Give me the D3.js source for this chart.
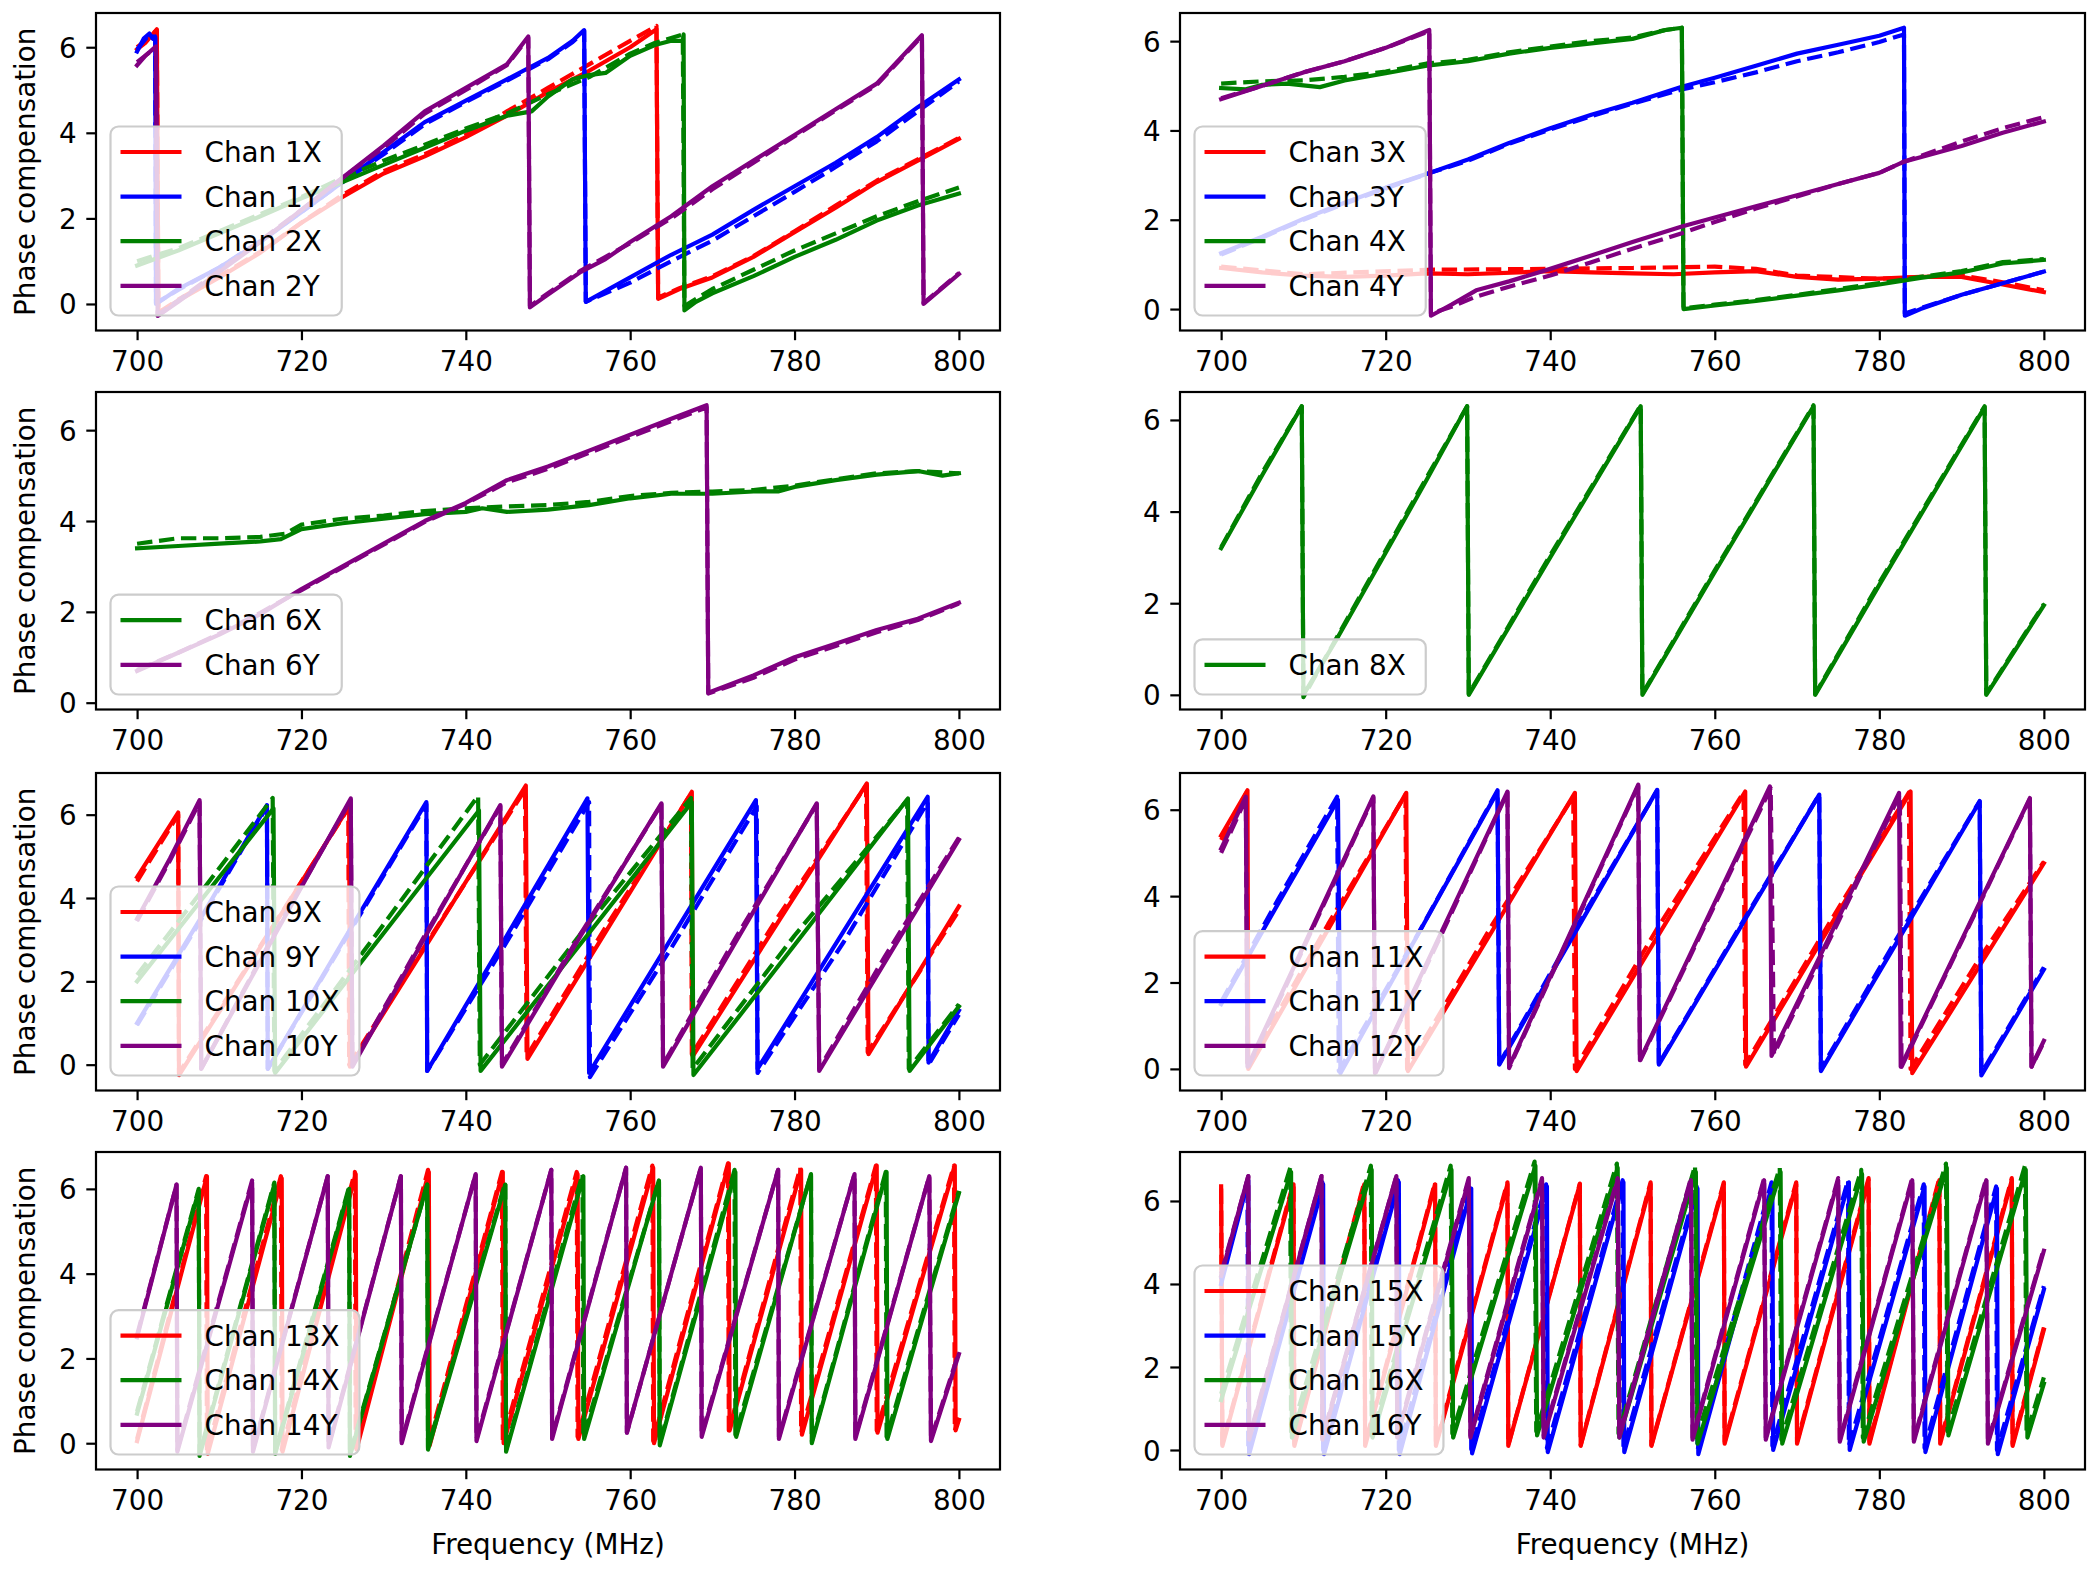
<!DOCTYPE html>
<html><head><meta charset="utf-8">
<script src="https://cdn.jsdelivr.net/npm/d3@7"></script>
<style>body{margin:0;background:#fff}svg{display:block}text{font-family:"DejaVu Sans",sans-serif}</style>
</head><body><svg id="c" width="2100" height="1570"></svg>
<script>
// ---------- tick labels ----------
const xTicks = [700, 720, 740, 760, 780, 800];
const yTicks = [0, 2, 4, 6];
const xLabel = "Frequency (MHz)";
const yLabel = "Phase compensation";

// ---------- panel 1 : Chan 1X / 1Y / 2X / 2Y ----------
const chan1X = [[700,5.95],[701,6.1],[702.4,6.42],[702.6,-0.22],[705,0.08],[710,0.62],[715,1.2],[720,1.9],[725,2.5],[730,3.05],[735,3.45],[740,3.9],[745,4.4],[750,4.95],[755,5.45],[760,6.0],[763.2,6.42],[763.4,0.12],[766,0.35],[770,0.62],[775,1.1],[780,1.68],[785,2.25],[790,2.85],[795,3.35],[800,3.86]];
const chan1X_fit = [[700,6.0],[701,6.15],[702.4,6.4],[702.6,-0.2],[705,0.1],[710,0.65],[715,1.22],[720,1.9],[725,2.55],[730,3.1],[735,3.5],[740,3.95],[745,4.5],[750,5.05],[755,5.6],[760,6.15],[763.2,6.5],[763.4,0.15],[766,0.37],[770,0.65],[775,1.12],[780,1.7],[785,2.3],[790,2.88],[795,3.38],[800,3.88]];
const chan1Y = [[700,5.9],[700.8,6.2],[701.5,6.32],[701.9,6.2],[702.2,6.25],[702.3,0.0],[705,0.35],[710,0.85],[715,1.45],[720,2.15],[725,2.85],[730,3.55],[735,4.25],[740,4.75],[745,5.25],[750,5.75],[753,6.15],[754.4,6.4],[754.6,0.05],[760,0.62],[765,1.15],[770,1.62],[775,2.2],[780,2.75],[785,3.3],[790,3.9],[795,4.6],[800,5.25]];
const chan1Y_fit = [[700,5.95],[701.5,6.3],[702.2,6.22],[702.3,0.02],[705,0.33],[710,0.85],[715,1.47],[720,2.15],[725,2.85],[730,3.5],[735,4.2],[740,4.72],[745,5.22],[750,5.72],[753,6.12],[754.4,6.38],[754.6,0.05],[760,0.5],[765,1.0],[770,1.48],[775,2.05],[780,2.62],[785,3.2],[790,3.8],[795,4.5],[800,5.2]];
const chan2X = [[700,0.9],[705,1.25],[710,1.65],[715,2.05],[720,2.47],[725,2.85],[730,3.25],[735,3.65],[740,4.05],[745,4.4],[748,4.5],[750,4.85],[753,5.25],[755,5.35],[757,5.4],[760,5.8],[763,6.05],[765,6.15],[766.4,6.15],[766.5,6.3],[766.6,-0.15],[768,0.05],[770,0.25],[775,0.65],[780,1.1],[785,1.5],[790,1.95],[795,2.3],[800,2.58]];
const chan2X_fit = [[700,1.0],[705,1.3],[710,1.7],[715,2.1],[720,2.5],[725,2.95],[730,3.35],[735,3.72],[740,4.1],[745,4.45],[750,4.9],[755,5.3],[760,5.85],[763,6.1],[766.4,6.3],[766.6,-0.05],[770,0.35],[775,0.8],[780,1.25],[785,1.65],[790,2.05],[795,2.4],[800,2.72]];
const chan2Y = [[700,5.58],[701,5.8],[702.3,6.02],[702.5,-0.28],[705,0.05],[710,0.75],[715,1.45],[720,2.2],[725,2.95],[730,3.7],[735,4.5],[740,5.05],[745,5.6],[747.6,6.25],[747.8,-0.08],[750,0.22],[754,0.75],[757,1.05],[760,1.45],[765,2.05],[770,2.75],[775,3.35],[780,3.95],[785,4.55],[790,5.15],[795.5,6.28],[795.7,0.0],[800,0.7]];
const chan2Y_fit = [[700,5.65],[702.3,6.0],[702.5,-0.25],[705,0.08],[710,0.78],[715,1.48],[720,2.2],[725,2.95],[730,3.65],[735,4.45],[740,5.0],[745,5.58],[747.6,6.22],[747.8,-0.05],[750,0.25],[754,0.78],[760,1.42],[765,2.0],[770,2.68],[775,3.3],[780,3.92],[785,4.52],[790,5.12],[795.5,6.26],[795.7,0.02],[800,0.72]];

// ---------- panel 2 : Chan 3X / 3Y / 4X / 4Y ----------
const chan3X = [[700,0.92],[705,0.82],[710,0.75],[715,0.72],[720,0.75],[725,0.8],[730,0.78],[740,0.85],[745,0.82],[750,0.8],[755,0.78],[760,0.82],[765,0.85],[770,0.72],[775,0.66],[780,0.68],[785,0.72],[790,0.72],[795,0.55],[800,0.38]];
const chan3X_fit = [[700,0.95],[710,0.78],[725,0.88],[740,0.9],[750,0.92],[760,0.95],[765,0.9],[770,0.75],[780,0.68],[790,0.75],[795,0.6],[800,0.42]];
const chan3Y = [[700,1.25],[705,1.62],[710,2.02],[715,2.38],[720,2.72],[725.4,3.05],[730,3.35],[735,3.72],[740,4.05],[745,4.35],[750,4.62],[756,4.98],[760,5.18],[765,5.45],[770,5.72],[775,5.92],[780,6.12],[783,6.3],[783.1,-0.15],[785,0.0],[790,0.32],[795,0.58],[800,0.84]];
const chan3Y_fit = [[700,1.22],[705,1.6],[710,2.0],[715,2.36],[720,2.7],[725.4,3.05],[730,3.32],[735,3.7],[740,4.02],[745,4.32],[750,4.6],[756,4.92],[760,5.08],[765,5.3],[770,5.55],[775,5.75],[780,5.98],[783,6.15],[783.1,-0.1],[785,0.02],[790,0.32],[795,0.58],[800,0.84]];
const chan4X = [[700,4.95],[703,4.92],[705,5.02],[708,5.05],[712,4.97],[715,5.12],[720,5.28],[725,5.45],[730,5.55],[735,5.72],[740,5.85],[745,5.95],[750,6.05],[754,6.25],[756,6.3],[756.2,0.0],[760,0.08],[765,0.18],[770,0.3],[775,0.42],[780,0.55],[785,0.7],[790,0.82],[795,1.02],[800,1.1]];
const chan4X_fit = [[700,5.05],[705,5.1],[710,5.12],[715,5.2],[720,5.32],[725,5.5],[730,5.58],[735,5.75],[740,5.88],[745,6.0],[750,6.08],[754,6.25],[756,6.3],[756.2,0.02],[760,0.1],[765,0.2],[770,0.32],[775,0.45],[780,0.58],[785,0.72],[790,0.85],[795,1.05],[800,1.12]];
const chan4Y = [[700,4.7],[705,5.0],[710,5.3],[715,5.55],[720,5.85],[725.3,6.25],[725.5,-0.15],[728,0.1],[731,0.42],[735,0.62],[740,0.9],[745,1.2],[750,1.5],[756,1.85],[760,2.05],[765,2.3],[770,2.55],[775,2.8],[780,3.05],[783,3.3],[790,3.65],[795,3.95],[800,4.2]];
const chan4Y_fit = [[700,4.72],[705,5.0],[710,5.3],[715,5.55],[720,5.85],[725.3,6.22],[725.5,-0.1],[728,0.05],[731,0.28],[735,0.5],[740,0.75],[745,1.05],[750,1.35],[756,1.7],[760,1.95],[765,2.25],[770,2.52],[775,2.8],[780,3.05],[783,3.3],[790,3.75],[795,4.05],[800,4.3]];

// ---------- panel 3 : Chan 6X / 6Y ----------
const chan6X = [[700,3.4],[705,3.45],[710,3.5],[715,3.55],[717.5,3.6],[720,3.82],[725,3.95],[730,4.05],[735,4.15],[740,4.2],[742,4.28],[745,4.2],[750,4.25],[755,4.35],[760,4.5],[765,4.6],[770,4.6],[775,4.65],[778,4.65],[780,4.75],[785,4.9],[790,5.02],[795,5.1],[798,5.0],[800,5.05]];
const chan6X_fit = [[700,3.5],[705,3.62],[710,3.62],[715,3.65],[718,3.72],[720,3.92],[725,4.05],[730,4.12],[735,4.22],[740,4.28],[745,4.32],[750,4.35],[755,4.42],[760,4.55],[765,4.62],[770,4.65],[775,4.68],[780,4.78],[785,4.92],[790,5.05],[795,5.1],[800,5.05]];
const chan6Y = [[700,0.7],[705,1.1],[710,1.5],[715,1.95],[720,2.5],[725,3.0],[730,3.5],[735,4.0],[740,4.4],[745,4.9],[750,5.2],[755,5.55],[760,5.9],[765,6.25],[769.3,6.55],[769.5,0.22],[775,0.6],[780,1.0],[785,1.3],[790,1.6],[795,1.85],[800,2.2]];
const chan6Y_fit = [[700,0.72],[705,1.1],[710,1.52],[715,1.98],[720,2.48],[725,2.98],[730,3.48],[735,3.98],[740,4.38],[745,4.85],[750,5.15],[755,5.5],[760,5.85],[765,6.2],[769.3,6.5],[769.5,0.2],[775,0.55],[780,0.95],[785,1.25],[790,1.55],[795,1.82],[800,2.18]];

// ---------- panel 4 : Chan 8X ----------
const chan8X = [[700,3.2],[705,4.8],[709.8,6.3],[710.0,0.0],[713.9,1.17],[720,3.1],[725,4.7],[729.9,6.3],[730.1,0.0],[740,3.0],[751,6.3],[751.2,0.0],[760,2.68],[772,6.3],[772.2,0.0],[780,2.4],[792.8,6.28],[793.0,0.0],[800,1.95]];
const chan8X_fit = [[700,3.22],[705,4.85],[709.8,6.3],[710.0,-0.05],[713.9,1.2],[720,3.15],[725,4.75],[729.9,6.3],[730.1,0.02],[740,3.05],[751,6.32],[751.2,0.02],[760,2.72],[772,6.32],[772.2,0.02],[780,2.45],[792.8,6.3],[793.0,0.02],[800,1.98]];

// ---------- panel 5 : Chan 9X / 9Y / 10X / 10Y ----------
const chan9X = [[700,4.5],[705,6.05],[705.1,-0.25],[715,2.82],[725.8,6.2],[725.9,-0.05],[736,3.12],[747.3,6.7],[747.5,0.14],[757,3.18],[767.5,6.55],[767.6,0.2],[778,3.42],[788.8,6.75],[789,0.25],[800,3.8]];
const chan9X_fit = [[700,4.4],[705,6.0],[705.1,-0.2],[715,2.85],[725.7,6.15],[725.8,0.0],[736,3.15],[747.2,6.6],[747.4,0.2],[757,3.3],[767.4,6.5],[767.5,0.25],[778,3.55],[788.7,6.7],[788.9,0.3],[800,3.7]];
const chan9Y = [[700,1.0],[708,3.6],[715.8,6.23],[715.9,-0.1],[725,2.94],[735.2,6.3],[735.3,-0.15],[745,3.1],[754.8,6.39],[755,-0.2],[765,3.03],[775.3,6.35],[775.5,-0.1],[786,3.21],[796.2,6.43],[796.3,0.05],[800,1.3]];
const chan9Y_fit = [[700,0.95],[708,3.55],[715.8,6.2],[715.9,-0.1],[725,2.9],[735.2,6.25],[735.3,-0.15],[745,2.95],[755,6.3],[755.1,-0.3],[765,2.8],[775.4,6.2],[775.5,-0.2],[786,2.95],[796.2,6.3],[796.3,0.0],[800,1.2]];
const chan10X = [[700,2.0],[708,4.0],[716.6,6.15],[716.8,-0.2],[729,2.9],[741.6,6.1],[741.8,-0.15],[755,3.16],[767.5,6.3],[767.7,-0.25],[780,2.87],[793.8,6.39],[794,-0.15],[800,1.4]];
const chan10X_fit = [[700,2.15],[708,4.2],[716.5,6.4],[716.7,-0.15],[729,3.1],[741.5,6.45],[741.7,0.0],[755,3.4],[767.4,6.4],[767.6,-0.1],[780,3.1],[793.7,6.35],[793.9,-0.1],[800,1.45]];
const chan10Y = [[700,3.5],[704,4.95],[707.6,6.35],[707.8,-0.1],[717,3.2],[726,6.39],[726.2,-0.05],[735,3.05],[744.2,6.23],[744.4,-0.05],[754,3.1],[763.8,6.27],[764,-0.05],[773,3.0],[782.7,6.27],[783,-0.15],[791,2.46],[800,5.4]];
const chan10Y_fit = [[700,3.45],[704,4.9],[707.6,6.3],[707.8,-0.1],[717,3.25],[726,6.35],[726.2,0.0],[735,3.1],[744.2,6.2],[744.4,0.0],[754,3.15],[763.8,6.25],[764,0.0],[773,3.1],[782.7,6.25],[783,-0.1],[791,2.6],[800,5.45]];

// ---------- panel 6 : Chan 11X / 11Y / 12Y ----------
const chan11X = [[700,5.4],[703.2,6.45],[703.3,0.0],[713,3.23],[722.5,6.39],[722.7,-0.05],[733,3.21],[743,6.39],[743.2,-0.05],[753,3.05],[763.7,6.42],[763.8,0.05],[774,3.3],[783.8,6.42],[784,-0.1],[792,2.33],[800,4.76]];
const chan11X_fit = [[700,5.3],[703.1,6.4],[703.2,0.05],[713,3.35],[722.4,6.35],[722.6,0.0],[733,3.35],[742.8,6.3],[743,0.0],[753,3.25],[763.5,6.4],[763.7,0.1],[774,3.4],[783.6,6.4],[783.8,0.0],[792,2.5],[800,4.8]];
const chan11Y = [[700,1.5],[707,3.85],[714.2,6.23],[714.5,-0.1],[724,3.14],[733.6,6.42],[733.8,0.1],[743,3.15],[753,6.46],[753.2,0.1],[763,3.24],[772.7,6.35],[772.9,-0.05],[782,2.89],[792.2,6.19],[792.4,-0.15],[800,2.3]];
const chan11Y_fit = [[700,1.55],[707,3.95],[714.1,6.3],[714.3,-0.05],[724,3.15],[733.6,6.45],[733.8,0.12],[743,3.22],[753,6.45],[753.2,0.12],[763,3.28],[772.7,6.35],[772.9,0.0],[782,2.98],[792.2,6.2],[792.4,-0.1],[800,2.35]];
const chan12Y = [[700,5.1],[703,6.3],[703.2,0.05],[711,3.24],[718.5,6.31],[718.7,-0.1],[727,3.26],[734.8,6.42],[735,0.05],[743,3.38],[750.7,6.58],[750.9,0.2],[759,3.45],[766.7,6.54],[766.9,0.3],[775,3.48],[782.4,6.39],[782.6,0.05],[790,2.98],[798.3,6.27],[798.5,0.05],[800,0.65]];
const chan12Y_fit = [[700,5.0],[703,6.25],[703.2,0.0],[711,3.2],[718.5,6.28],[718.7,-0.12],[727,3.2],[734.8,6.4],[735,0.02],[743,3.35],[750.7,6.55],[750.9,0.18],[759,3.4],[766.8,6.5],[767.2,0.35],[775,3.4],[782.5,6.35],[782.7,0.05],[790,2.95],[798.3,6.25],[798.5,0.05],[800,0.62]];

// ---------- panel 7 : Chan 13X / 14X / 14Y ----------
const chan13X = [[700,0.05],[708.5,6.3],[708.6,-0.25],[717.6,6.25],[717.7,-0.2],[726.6,6.35],[726.7,-0.15],[735.5,6.4],[735.6,-0.05],[744.5,6.4],[744.6,0.0],[753.6,6.35],[753.7,0.1],[762.8,6.5],[762.9,0.0],[772,6.6],[772.1,0.3],[780.8,6.45],[780.9,0.2],[790,6.55],[790.1,0.25],[799.5,6.55],[799.6,0.3],[800,0.55]];
const chan13X_fit = [[700,0.1],[708.4,6.3],[708.5,-0.2],[717.5,6.3],[717.6,-0.15],[726.5,6.4],[726.6,-0.1],[735.4,6.45],[735.5,0.0],[744.4,6.4],[744.5,0.05],[753.5,6.4],[753.6,0.15],[762.7,6.55],[762.8,0.05],[771.9,6.6],[772.0,0.3],[780.7,6.5],[780.8,0.25],[789.9,6.55],[790.0,0.3],[799.4,6.55],[799.5,0.3],[800,0.6]];
const chan14X = [[700,0.7],[707.5,5.95],[707.6,-0.3],[716.7,6.1],[716.8,-0.25],[725.8,6.0],[725.9,-0.3],[735.3,6.1],[735.4,-0.15],[744.8,6.1],[744.9,-0.2],[754.3,6.3],[754.4,0.1],[763.5,6.2],[763.6,-0.05],[772.8,6.4],[772.9,0.15],[782,6.35],[782.1,0.0],[791.2,6.4],[791.3,0.1],[800,5.9]];
const chan14X_fit = [[700,0.75],[707.5,6.0],[707.6,-0.25],[716.7,6.15],[716.8,-0.2],[725.8,6.05],[725.9,-0.25],[735.3,6.1],[735.4,-0.1],[744.8,6.15],[744.9,-0.15],[754.2,6.35],[754.3,0.15],[763.5,6.2],[763.6,0.0],[772.7,6.45],[772.8,0.2],[782.0,6.35],[782.1,0.05],[791.1,6.4],[791.2,0.15],[800,5.95]];
const chan14Y = [[700,2.5],[704.8,6.1],[704.9,-0.2],[714,6.15],[714.1,-0.2],[723.2,6.3],[723.3,-0.1],[732.1,6.3],[732.2,0.0],[741.2,6.35],[741.3,0.05],[750.4,6.45],[750.5,0.1],[759.5,6.5],[759.6,0.25],[768.6,6.5],[768.7,0.15],[778,6.45],[778.1,0.1],[787.3,6.35],[787.4,0.1],[796.4,6.3],[796.6,0.05],[800,2.1]];
const chan14Y_fit = [[700,2.55],[704.8,6.1],[704.9,-0.15],[714,6.2],[714.1,-0.15],[723.2,6.3],[723.3,-0.05],[732.1,6.3],[732.2,0.05],[741.2,6.35],[741.3,0.1],[750.4,6.45],[750.5,0.15],[759.5,6.5],[759.6,0.25],[768.6,6.5],[768.7,0.2],[778,6.45],[778.1,0.15],[787.3,6.35],[787.4,0.15],[796.4,6.3],[796.6,0.1],[800,2.15]];

// ---------- panel 8 : Chan 15X / 15Y / 16X / 16Y ----------
const chan15X = [[700,6.35],[700.15,0.1],[708.8,6.4],[708.9,0.1],[717.4,6.4],[717.5,0.1],[726.0,6.4],[726.1,0.1],[734.8,6.4],[734.9,0.1],[743.6,6.4],[743.7,0.1],[752.2,6.4],[752.3,0.1],[761.1,6.4],[761.2,0.15],[769.9,6.4],[770.0,0.15],[778.7,6.5],[778.8,0.15],[787.3,6.5],[787.4,0.15],[796.1,6.5],[796.2,0.1],[800,2.9]];
const chan15X_fit = [[700,6.3],[700.15,0.15],[708.8,6.45],[708.9,0.15],[717.4,6.45],[717.5,0.15],[726.0,6.45],[726.1,0.15],[734.8,6.45],[734.9,0.12],[743.6,6.42],[743.7,0.12],[752.2,6.45],[752.3,0.12],[761.1,6.45],[761.2,0.2],[769.9,6.45],[770.0,0.2],[778.7,6.55],[778.8,0.2],[787.3,6.55],[787.4,0.2],[796.1,6.55],[796.2,0.15],[800,2.95]];
const chan15Y = [[700,4.0],[703.3,6.5],[703.4,-0.1],[712.4,6.4],[712.5,-0.1],[721.6,6.45],[721.7,-0.1],[730.4,6.3],[730.5,-0.08],[739.6,6.35],[739.7,-0.05],[748.9,6.45],[749.0,-0.05],[757.9,6.3],[758.0,-0.1],[767.0,6.4],[767.1,0.0],[776.3,6.45],[776.4,0.0],[785.5,6.35],[785.6,-0.05],[794.3,6.3],[794.4,-0.1],[800,3.86]];
const chan15Y_fit = [[700,4.1],[703.2,6.5],[703.3,0.0],[712.3,6.45],[712.4,0.0],[721.5,6.5],[721.6,0.0],[730.3,6.35],[730.4,0.02],[739.5,6.4],[739.6,0.05],[748.8,6.5],[748.9,0.05],[757.8,6.35],[757.9,0.0],[766.9,6.45],[767.0,0.1],[776.2,6.5],[776.3,0.1],[785.4,6.4],[785.5,0.05],[794.2,6.35],[794.3,0.0],[800,3.95]];
const chan16X = [[700,1.2],[708.5,6.7],[708.6,0.3],[718.3,6.75],[718.4,0.3],[728.0,6.75],[728.2,0.3],[738.2,6.85],[738.4,0.35],[748.2,6.8],[748.4,0.3],[757.7,6.7],[757.9,0.15],[768.0,6.7],[768.2,0.15],[777.9,6.65],[778.1,0.2],[788.2,6.8],[788.4,0.35],[797.8,6.75],[798.0,0.3],[800,1.6]];
const chan16X_fit = [[700,1.35],[708.4,6.8],[708.5,0.4],[718.2,6.85],[718.3,0.35],[727.9,6.85],[728.1,0.4],[738.1,6.95],[738.3,0.45],[748.1,6.9],[748.3,0.4],[757.6,6.85],[757.8,0.3],[767.9,6.8],[768.1,0.25],[777.8,6.75],[778.0,0.3],[788.1,6.9],[788.3,0.45],[797.7,6.85],[797.9,0.4],[800,1.75]];
const chan16Y = [[700,4.2],[703.3,6.6],[703.4,0.25],[712.2,6.6],[712.3,0.25],[721.3,6.6],[721.4,0.3],[730.1,6.5],[730.3,0.3],[739.0,6.5],[739.2,0.3],[748.2,6.5],[748.4,0.3],[757.1,6.5],[757.3,0.25],[766.0,6.5],[766.2,0.25],[775.0,6.5],[775.2,0.2],[784.0,6.5],[784.2,0.2],[793.0,6.5],[793.2,0.15],[800,4.8]];
const chan16Y_fit = [[700,4.25],[703.3,6.6],[703.4,0.3],[712.2,6.6],[712.3,0.3],[721.3,6.6],[721.4,0.35],[730.1,6.55],[730.3,0.35],[739.0,6.55],[739.2,0.35],[748.2,6.55],[748.4,0.35],[757.1,6.55],[757.3,0.3],[766.0,6.55],[766.2,0.3],[775.0,6.55],[775.2,0.25],[784.0,6.55],[784.2,0.25],[793.0,6.55],[793.2,0.2],[800,4.85]];

// ---------- layout / style ----------
const FS = 27.8, LW = 4.2, AXW = 2.2;
const COLORS = {red:"#ff0000", blue:"#0000ff", green:"#008000", purple:"#800080"};
const COLS = [[96, 1000], [1180, 2085]];
const ROWS = [13, 392, 773, 1152];
const PH = 317.5;
const xDomain = [695, 805];

const panels = [
  {col:0,row:0,yDomain:[-0.62,6.8], series:[["Chan 1X","red",chan1X,chan1X_fit],["Chan 1Y","blue",chan1Y,chan1Y_fit],["Chan 2X","green",chan2X,chan2X_fit],["Chan 2Y","purple",chan2Y,chan2Y_fit]]},
  {col:1,row:0,yDomain:[-0.48,6.63], series:[["Chan 3X","red",chan3X,chan3X_fit],["Chan 3Y","blue",chan3Y,chan3Y_fit],["Chan 4X","green",chan4X,chan4X_fit],["Chan 4Y","purple",chan4Y,chan4Y_fit]]},
  {col:0,row:1,yDomain:[-0.15,6.84], series:[["Chan 6X","green",chan6X,chan6X_fit],["Chan 6Y","purple",chan6Y,chan6Y_fit]]},
  {col:1,row:1,yDomain:[-0.32,6.61], series:[["Chan 8X","green",chan8X,chan8X_fit]]},
  {col:0,row:2,yDomain:[-0.62,7.0], series:[["Chan 9X","red",chan9X,chan9X_fit],["Chan 9Y","blue",chan9Y,chan9Y_fit],["Chan 10X","green",chan10X,chan10X_fit],["Chan 10Y","purple",chan10Y,chan10Y_fit]]},
  {col:1,row:2,yDomain:[-0.5,6.85], series:[["Chan 11X","red",chan11X,chan11X_fit],["Chan 11Y","blue",chan11Y,chan11Y_fit],["Chan 12Y","purple",chan12Y,chan12Y_fit]]},
  {col:0,row:3,yDomain:[-0.62,6.87], series:[["Chan 13X","red",chan13X,chan13X_fit],["Chan 14X","green",chan14X,chan14X_fit],["Chan 14Y","purple",chan14Y,chan14Y_fit]]},
  {col:1,row:3,yDomain:[-0.47,7.18], series:[["Chan 15X","red",chan15X,chan15X_fit],["Chan 15Y","blue",chan15Y,chan15Y_fit],["Chan 16X","green",chan16X,chan16X_fit],["Chan 16Y","purple",chan16Y,chan16Y_fit]]}
];

const svg = d3.select("#c");
const defs = svg.append("defs");

panels.forEach((p, i) => {
  const [x0, x1] = COLS[p.col];
  const y0 = ROWS[p.row], y1 = y0 + PH;
  const x = d3.scaleLinear().domain(xDomain).range([x0, x1]);
  const y = d3.scaleLinear().domain(p.yDomain).range([y1, y0]);
  const clipId = "clip" + i;
  defs.append("clipPath").attr("id", clipId).append("rect")
    .attr("x", x0).attr("y", y0).attr("width", x1 - x0).attr("height", y1 - y0);

  const line = d3.line().x(d => x(d[0])).y(d => y(d[1]));
  const g = svg.append("g").attr("clip-path", `url(#${clipId})`);
  p.series.forEach(([name, col, data, fit]) => {
    g.append("path").datum(data).attr("d", line).attr("fill", "none")
      .attr("stroke", COLORS[col]).attr("stroke-width", LW)
      .attr("stroke-linejoin", "round").attr("stroke-linecap", "square");
    g.append("path").datum(fit).attr("d", line).attr("fill", "none")
      .attr("stroke", COLORS[col]).attr("stroke-width", LW)
      .attr("stroke-dasharray", "15.4,6.7")
      .attr("stroke-linejoin", "round").attr("stroke-linecap", "butt");
  });

  // axes
  const gx = svg.append("g").attr("transform", `translate(0,${y1})`)
    .call(d3.axisBottom(x).tickValues(xTicks).tickSize(9.7).tickPadding(11.5).tickFormat(d3.format("d")));
  const gy = svg.append("g").attr("transform", `translate(${x0},0)`)
    .call(d3.axisLeft(y).tickValues(yTicks).tickSize(9.7).tickPadding(9.7).tickFormat(d3.format("d")));
  [gx, gy].forEach(a => {
    a.select(".domain").remove();
    a.selectAll(".tick line").attr("stroke", "#000").attr("stroke-width", AXW);
    a.selectAll(".tick text").attr("fill", "#000").style("font-size", FS + "px")
      .style("font-family", '"DejaVu Sans", sans-serif');
  });
  gy.selectAll(".tick text").attr("dy", "0.36em");

  // frame
  svg.append("rect").attr("x", x0).attr("y", y0).attr("width", x1 - x0).attr("height", y1 - y0)
    .attr("fill", "none").attr("stroke", "#000").attr("stroke-width", AXW);

  // y label (left column only)
  if (p.col === 0) {
    svg.append("text").attr("transform", `translate(34.5,${(y0 + y1) / 2}) rotate(-90)`)
      .attr("text-anchor", "middle").style("font-size", FS + "px").attr("fill", "#000").text(yLabel);
  }
  // x label (bottom row only)
  if (p.row === 3) {
    svg.append("text").attr("x", (x0 + x1) / 2).attr("y", y1 + 84)
      .attr("text-anchor", "middle").style("font-size", FS + "px").attr("fill", "#000").text(xLabel);
  }

  // legend (lower left)
  const n = p.series.length;
  const pitch = 44.6;
  const lh = n * pitch + 10.6;
  const lx = x0 + 14.5, ly = y1 - 15 - lh;
  const lg = svg.append("g");
  const box = lg.append("rect").attr("x", lx).attr("y", ly).attr("height", lh)
    .attr("rx", 8).attr("ry", 8).attr("fill", "#fff").attr("fill-opacity", 0.8)
    .attr("stroke", "#cccccc").attr("stroke-width", AXW);
  let maxW = 0;
  p.series.forEach(([name, col], k) => {
    const cy = ly + 25.5 + k * pitch;
    lg.append("line").attr("x1", lx + 10).attr("x2", lx + 71).attr("y1", cy).attr("y2", cy)
      .attr("stroke", COLORS[col]).attr("stroke-width", LW);
    const t = lg.append("text").attr("x", lx + 94).attr("y", cy + 10)
      .style("font-size", FS + "px").attr("fill", "#000").text(name);
    maxW = Math.max(maxW, t.node().getComputedTextLength());
  });
  box.attr("width", 94 + maxW + 20);
});
</script></body></html>
